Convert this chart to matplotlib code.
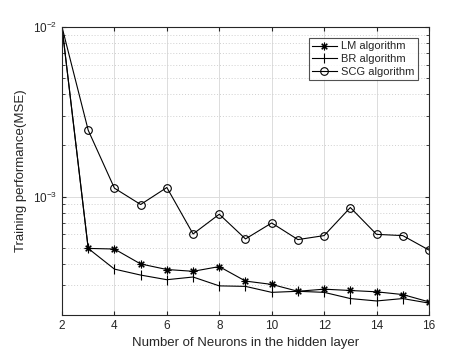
import matplotlib
matplotlib.use("Agg")
import matplotlib.pyplot as plt
from matplotlib.ticker import LogLocator, NullFormatter, FixedLocator

neurons = list(range(2, 17))
lm = [1e-2, 4.94e-4, 4.90e-4, 4.00e-4, 3.71e-4, 3.62e-4, 3.86e-4, 3.17e-4,
      3.03e-4, 2.76e-4, 2.84e-4, 2.79e-4, 2.74e-4, 2.64e-4, 2.39e-4]
br = [1e-2, 4.94e-4, 3.73e-4, 3.44e-4, 3.23e-4, 3.35e-4, 2.97e-4, 2.95e-4,
      2.72e-4, 2.76e-4, 2.72e-4, 2.50e-4, 2.42e-4, 2.50e-4, 2.35e-4]
scg = [1e-2, 2.46e-3, 1.12e-3, 8.97e-4, 1.13e-3, 6.01e-4, 7.86e-4, 5.62e-4,
       6.98e-4, 5.57e-4, 5.88e-4, 8.61e-4, 5.98e-4, 5.88e-4, 4.83e-4]
labels = ["LM algorithm", "BR algorithm", "SCG algorithm"]
xticks = [2, 4, 6, 8, 10, 12, 14, 16]

txt = "#262626"
plt.rcParams['font.family'] = ['Liberation Sans', 'DejaVu Sans']
fig = plt.figure(figsize=(4.74, 3.55), dpi=100)
ax = fig.add_axes([0.1308, 0.1127, 0.905 - 0.1308, 0.924 - 0.1127])

me = list(range(1, len(neurons)))
ax.plot(neurons, lm, color="black", lw=0.8, marker=(8, 2, 0), ms=5.5, mew=0.8,
        markevery=me, label=labels[0])
ax.plot(neurons, br, color="black", lw=0.8, marker="|", ms=6.5, mew=0.8,
        markevery=me, label=labels[1])
ax.plot(neurons, scg, color="black", lw=0.8, marker="o", ms=5.5, mew=0.8,
        mfc="none", markevery=me, label=labels[2])

ax.set_yscale("log")
ax.set_xlim(2, 16)
ax.set_ylim(2e-4, 1e-2)
ax.set_xticks(xticks)
ax.set_xticklabels([str(t) for t in xticks])
ax.yaxis.set_major_locator(FixedLocator([1e-3, 1e-2]))
ax.yaxis.set_minor_locator(LogLocator(base=10, subs=range(2, 10)))
ax.yaxis.set_minor_formatter(NullFormatter())

ax.grid(True, which="major", color="#dcdcdc", lw=0.7, ls="-")
ax.grid(True, which="minor", axis="y", color="#d0d0d0", lw=0.7, ls=(0, (1, 2)))
ax.set_axisbelow(True)

ax.tick_params(which="both", direction="in", top=True, right=True,
               colors=txt, labelsize=8.5, length=3)
ax.tick_params(which="minor", length=2)
for s in ax.spines.values():
    s.set_color(txt)
    s.set_linewidth(0.8)

ax.set_xlabel("Number of Neurons in the hidden layer", fontsize=9.5, color=txt, labelpad=4)
ax.set_ylabel("Training performance(MSE)", fontsize=9.5, color=txt, labelpad=4)

leg = ax.legend(loc="upper right", fontsize=8, frameon=True, fancybox=False,
                edgecolor=txt, handlelength=2.2, handletextpad=0.4,
                borderpad=0.3, labelspacing=0.25, borderaxespad=1.0)
leg.get_frame().set_linewidth(0.8)
for t in leg.get_texts():
    t.set_color(txt)

fig.savefig("out.png", dpi=100)
